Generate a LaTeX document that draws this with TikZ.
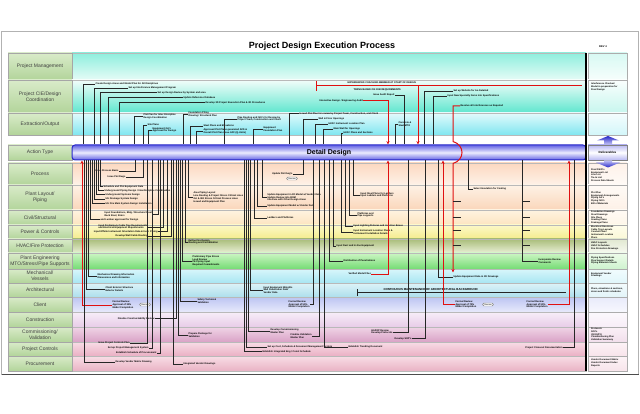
\documentclass[tikz,border=0pt]{standalone}
\usepackage{fontspec}
\setmainfont{Liberation Sans}
\usetikzlibrary{arrows.meta}
\definecolor{pmT}{HTML}{8EEEDD}\definecolor{pmB}{HTML}{E6FCF7}
\definecolor{ciT}{HTML}{F2FDFA}\definecolor{ciB}{HTML}{5EE6CE}
\definecolor{exT}{HTML}{E2FAFC}\definecolor{exB}{HTML}{80E6F0}
\definecolor{prT}{HTML}{FCD8C0}\definecolor{prB}{HTML}{FEF2E8}
\definecolor{plT}{HTML}{FEF2E6}\definecolor{plB}{HTML}{FAD6BA}
\definecolor{cvT}{HTML}{FEF3E0}\definecolor{cvB}{HTML}{FDE4C0}
\definecolor{pwT}{HTML}{FCF8C8}\definecolor{pwB}{HTML}{F4EC8C}
\definecolor{hvT}{HTML}{A9BD7A}\definecolor{hvB}{HTML}{E9EFD6}
\definecolor{geT}{HTML}{CDF5C4}\definecolor{geB}{HTML}{74DC74}
\definecolor{meT}{HTML}{D8F6FB}\definecolor{meB}{HTML}{A8E6F2}
\definecolor{arT}{HTML}{DDF3F8}\definecolor{arB}{HTML}{ADDFEC}
\definecolor{clT}{HTML}{BCC4F2}\definecolor{clB}{HTML}{E8EAFB}
\definecolor{coT}{HTML}{F7EEF8}\definecolor{coB}{HTML}{E8CCE8}
\definecolor{cmT}{HTML}{F0D4E6}\definecolor{cmB}{HTML}{D9A2C6}
\definecolor{pcT}{HTML}{F8DCE6}\definecolor{pcB}{HTML}{EAB0C4}
\definecolor{puT}{HTML}{F8DEE6}\definecolor{puB}{HTML}{E9B2C4}
\definecolor{lgT}{HTML}{D9EBC9}\definecolor{lgB}{HTML}{B2D49A}
\definecolor{barE}{HTML}{6262E4}\definecolor{barD}{HTML}{2828C8}\definecolor{barM}{HTML}{ECECFE}
\definecolor{redl}{HTML}{E01010}
\tikzset{
  lbl/.style={font=\fontsize{2.4}{2.75}\selectfont\bfseries, anchor=west, inner sep=0.3pt, align=left},
  lblE/.style={lbl, anchor=east},
  conn/.style={draw=black!85, line width=0.4pt},
  rconn/.style={draw=redl, line width=1pt},
  rarr/.style={rconn, -{Stealth[length=3.4pt,width=3.2pt]}},
  lanetxt/.style={font=\fontsize{5}{5.6}\selectfont, text=black!75, align=center},
  deliv/.style={font=\fontsize{2.3}{2.7}\selectfont\bfseries, anchor=west, align=left, inner sep=0pt},
  rbox/.style={draw=gray, fill=white, rounded corners=1.5pt, font=\fontsize{2.2}{2.5}\selectfont, inner sep=0.7pt, minimum width=11pt}
}
\newcommand\mklane[6]{%
  \shade[top color=#4, bottom color=#5] (72,#2) rectangle (586,#3);
  \draw[gray!55, line width=0.4pt] (72,#2) rectangle (586,#3);
  \shade[top color=#4!35!white, bottom color=#5!35!white] (588,#2) rectangle (627,#3);
  \draw[gray!65, line width=0.4pt] (588,#2) rectangle (627,#3);
  \shade[top color=lgT, bottom color=lgB] (8,#2) rectangle (72,#3);
  \draw[gray!70, line width=0.4pt] (8,#2) rectangle (72,#3);
  \node[lanetxt] (#1) at (40,{(#2+#3)/2}) {#6};}
\newcommand\tUp[5]{\node[lbl] (#1) at (#3,#4) {#5}; \coordinate (#1v) at (#2,#4); \draw[conn] (#1.west) -- (#1v) -- (bar.north -| #1v);}
\newcommand\tUpE[5]{\node[lblE] (#1) at (#3,#4) {#5}; \coordinate (#1v) at (#2,#4); \draw[conn] (#1.east) -- (#1v) -- (bar.north -| #1v);}
\newcommand\tDn[5]{\node[lbl] (#1) at (#3,#4) {#5}; \coordinate (#1v) at (#2,#4); \draw[conn] (#1.west) -- (#1v) -- (bar.south -| #1v);}
\newcommand\tDnE[5]{\node[lblE] (#1) at (#3,#4) {#5}; \coordinate (#1v) at (#2,#4); \draw[conn] (#1.east) -- (#1v) -- (bar.south -| #1v);}
\newcommand\rDn[5]{\node[lbl] (#1) at (#3,#4) {#5}; \coordinate (#1v) at (#2,#4); \draw[rarr] (#1.west) -- (#1v) -- (bar.south -| #1v);}
\newcommand\rDnE[5]{\node[lblE] (#1) at (#3,#4) {#5}; \coordinate (#1v) at (#2,#4); \draw[rarr] (#1.east) -- (#1v) -- (bar.south -| #1v);}
\begin{document}
\begin{tikzpicture}[x=1pt,y=-1pt]
\useasboundingbox (0,0) rectangle (640,414);
\fill[white] (0,0) rectangle (640,414);
% frame and title
\draw[gray!60, line width=0.8pt] (1.5,31) rectangle (638.5,374);
\draw[black!70, line width=1pt] (1.5,374) -- (638.5,374);
\node[font=\fontsize{9}{10}\selectfont\bfseries] (title) at (322,46) {Project Design Execution Process};
\node[font=\fontsize{2.6}{3}\selectfont\bfseries] (rev) at (603,47) {REV 4};
% lanes
\mklane{lPM}{53}{80}{pmT}{pmB}{Project Management}
\mklane{lCI}{80}{113}{ciT}{ciB}{Project CIE/Design\\Coordination}
\mklane{lEX}{113}{135}{exT}{exB}{Extraction/Output}
\mklane{lPR}{163}{185}{prT}{prB}{Process}
\mklane{lPL}{185}{210}{plT}{plB}{Plant Layout/\\Piping}
\mklane{lCV}{210}{225}{cvT}{cvB}{Civil/Structural}
\mklane{lPW}{225}{239}{pwT}{pwB}{Power \& Controls}
\mklane{lHV}{239}{253}{hvT}{hvB}{HVAC/Fire Protection}
\mklane{lGE}{253}{269}{geT}{geB}{Plant Engineering\\MTO/Stress/Pipe Supports}
\mklane{lME}{269}{283}{meT}{meB}{Mechanical/\\Vessels}
\mklane{lAR}{283}{297}{arT}{arB}{Architectural}
\mklane{lCL}{297}{312}{clT}{clB}{Client}
\mklane{lCO}{312}{327}{coT}{coB}{Construction}
\mklane{lCM}{327}{342}{cmT}{cmB}{Commissioning/\\Validation}
\mklane{lPC}{342}{356}{pcT}{pcB}{Project Controls}
\mklane{lPU}{356}{371}{puT}{puB}{Procurement}
% action type row
\shade[top color=lgT, bottom color=lgB] (8,145) rectangle (72,160);
\draw[gray!70, line width=0.4pt] (8,145) rectangle (72,160);
\node[lanetxt] (lAT) at (40,152.5) {Action Type};
\node[draw=barD, line width=1pt, rounded corners=3pt, top color=barE, bottom color=barE, middle color=barM, minimum width=514pt, minimum height=15pt, inner sep=0pt, font=\fontsize{7}{8}\selectfont\bfseries] (bar) at (329,152.5) {Detail Design};
\node[draw=gray, line width=0.4pt, top color=barE!45!white, bottom color=barE!45!white, middle color=white, minimum width=39pt, minimum height=15pt, inner sep=0pt, font=\fontsize{3}{3.5}\selectfont\bfseries] (dl) at (607.5,152.5) {Deliverables};
\shade[top color=barD, bottom color=barE!40!white] (604,144) -- (604,140.5) -- (597,140.5) -- (608,136) -- (619,140.5) -- (612,140.5) -- (612,144) -- cycle;
\shade[top color=barE!40!white, bottom color=barD] (604,160.5) -- (604,162.5) -- (596,162.5) -- (608,167.5) -- (620,162.5) -- (612,162.5) -- (612,160.5) -- cycle;
% ---- upper items: CIE / coordination
\tUp{t1}{83}{95}{84}{Create Design Areas and Model Plan for All Disciplines}
\tUp{t2}{94}{128}{88}{Set up Interference Management Program}
\tUp{t3}{100}{157}{92.5}{Set up Design Review by System and area}
\tUp{t4}{108}{183}{97.5}{Update Reference Database}
\tUp{t5}{119}{205}{102.5}{Develop 3D Project Execution Plan \& 3D Procedures}
\node[lbl] (ch1) at (347,83) {EXPERIENCED COACHING MEMBER AT START OF DESIGN};
\node[lbl] (ch2) at (353,89.5) {TIMING BASED ON JOB REQUIREMENTS};
\coordinate (tbL) at (316,86); \coordinate (tbR) at (582,86);
\coordinate (tbLa) at (316,81); \coordinate (tbLb) at (316,91);
\draw[rconn] (tbL) -- (tbR); \draw[rconn] (tbLa) -- (tbLb);
\coordinate (tbD) at (418,86); \draw[rarr] (tbD) -- (bar.north -| tbD);
\node[lbl] (ti) at (319,101) {Interactive Design / Engineering Audit};
\coordinate (tiv) at (388,101); \draw[rarr] (ti.east) -- (tiv) -- (bar.north -| tiv);
\tUpE{t7}{404}{395}{95}{Issue Audit Report}
\tUp{t8}{424}{453}{91}{Set up Website for As-Detailed}
\tUp{t9}{433}{447}{96}{Input New Specialty Items into Specifications}
\node[lbl] (t10) at (460,106) {Resolve all Interferences as Required};
\coordinate (t10v) at (453,106); \coordinate (t10a) at (453,141.5);
\coordinate (t10b) at (453,163.5); \coordinate (t10c) at (453,272.5);
\draw[rarr] (t10.west) -- (t10v) -- (t10a) .. controls (465,145) and (465,160) .. (t10b) -- (t10c);
% ---- extraction / output
\tUp{e1}{134}{143}{116.5}{Plot Plan for Inter-Discipline\\Design Coordination}
\tUp{e2}{143}{147}{125}{Site Plans}
\tUp{e3}{148}{152}{130}{Equipment GA's\\Approved for Design}
\tUp{e4}{183}{188}{114.5}{Foundation Piling\\Drawing / Structural Plan}
\tUp{e5}{190}{203}{126}{Steel Plans and Elevations}
\tUp{e6}{196}{203}{131.5}{Approved Plot Plans generated AFD \&\\Overall Plot Plan issue AFC (Q-Units)}
\tUp{e7}{224}{237}{119}{Pipe Routing and ISO's for Review by\\Project Team, Construction and Client}
\tUp{e8}{253}{263}{129.5}{Equipment\\Foundation Plan}
\tUp{e9}{289}{299}{113.5}{Issued Plot Plan for review by Project Team, Construction, and Client}
\tUp{e10}{303}{318}{119}{Wall \& Floor Openings}
\tUp{e11}{315}{328}{124}{HVAC Instrument Location Plan}
\tUp{e12}{323}{333}{129}{Main Wall for Openings}
\tUp{e13}{341}{343}{133}{HVAC Plans and Sections}
\tUp{e14}{395}{398}{124}{Concrete \&\\Steel MTO}
% ---- lower items, left block
\tDnE{p1}{135}{119}{171}{Issue Process Basis}
\tDnE{p2}{143}{126}{177}{Issue P\&I Dwgs}
\tDn{p3}{100}{103}{186.5}{Schedule and Plot Equipment Data}
\tDn{p4}{98}{104}{190.5}{Underground Piping Design / Interdiscipline Coordination}
\tDn{p5}{96}{105}{194.5}{Underground Systems Design}
\tDn{p6}{94}{105}{199}{UG Drainage System Design}
\tDn{p7}{92}{105}{203.5}{UG Fire Main System Design Installation}
\tDnE{c1}{158}{153}{214}{Input Foundations, Bldg / Structural Steel,\\Rack Steel, Stairs}
\tDn{c2}{90}{100}{219.5}{and Lumber approved for Design}
\tDnE{w1}{163}{148}{227}{Input Preliminary Cable Tray Requirements\\and Electrical Equipment Requirements}
\tDnE{w2}{167}{158}{231.5}{Input Offsite Instrument Orientation Data \& Instr. Piping}
\tDnE{w3}{171}{148}{236}{Develop Wall Cable Routing}
\tDn{m1}{88}{97}{276}{Mechanical Drawing Information\\Dimensions and Information}
\tDn{a1}{86}{105}{289.5}{Client Exterior Structure\\Exterior Details}
\rDn{r1}{82}{112}{305}{Formal Review\\Approval of 30\%\\Model Completion}
\node[rbox] (rb1) at (145,304.5) {Review};
\tDnE{k1}{176}{155}{318.5}{Finalize Constructability Review}
\tDnE{j1}{147}{130}{343}{Issue Project Controls Plan}
\tDnE{j2}{152}{149}{348}{Set up Project Management System}
\tDnE{j3}{160}{157}{353}{Establish Schedule of Procurement}
\tDn{q1}{84}{115}{362}{Develop Vendor Matrix Drawing}
\tDn{q2}{173}{183}{364}{Integrated Vendor Drawings}
\tDn{v1}{178}{188}{335}{Prepare Package for\\Validation}
\tDn{r2}{180}{197}{301}{Safety Technical\\Validation}
\tDn{g1}{182}{192}{261}{Preliminary Pipe Stress\\Load Review\\PE Piping Input\\Required Commitments}
\tDn{h1}{185}{188}{242}{Define Fire Design\\Routing and Coordination}
\tDn{l1}{188}{193}{197.5}{Area Piping Layout\\Line Routing \& Project Stress Critical Lines\\GA \& ISO Stress Critical Process Lines\\Issued and Equipment Plan}
% ---- lower items, middle block
\tDnE{p8}{303}{293}{174}{Update P\&I Dwg's}
\node[rbox] (rb2) at (292,178.5) {Review};
\tDn{l2}{262}{267}{197.5}{Update Equipment in 3D Model w/ Vendor Data\\Update Review into BOM\\Interface with Other Design Areas}
\tDn{l3}{257}{267}{206}{Update Equipment Model w/ Vendor Data}
\tDn{c3}{254}{267}{218}{Ladders and Platforms}
\tDn{a2}{250}{263}{290}{Input Equipment Weights\\Wall Penetration Data\\Vendor Data}
\tDn{v2}{248}{270}{331}{Develop Commissioning\\Master Plan}
\tDn{j4}{246}{267}{347}{Set up Cost, Schedule \& Document Management System}
\tDn{j5}{244}{262}{351.5}{Establish Integrated Eng / Const Schedule}
\tDnE{r3}{313}{310}{304.5}{Formal Review\\Approval of 50\%\\Model Completion}
\tDnE{v3}{319}{312}{336.5}{Finalize Validation\\Master Plan}
\tDn{j6}{324}{348}{347}{Establish Trending Document}
\tDn{g2}{329}{343}{261}{Distribution of Penetrations}
\tDn{h2}{333}{336}{246}{Input Duct and In-line Equipment}
\tDn{w5}{341}{353}{232}{Input Instrument Location Plans \&\\Instrument Installation Details}
\tDn{w4}{345}{353}{226}{Input Lighting Fixtures and Junction Boxes}
\tDn{c4}{349}{357}{215}{Platforms and\\Pipe supports}
\tDn{l4}{353}{360}{195}{Input Steel Plans for Ladders\\Input Ladders and Platforms}
\node[lbl] (m2) at (348,274) {Verified Model Files};
\coordinate (m2v) at (388,274); \draw[rarr] (m2.east) -- (m2v) -- (bar.south -| m2v);
\coordinate (cmL) at (357,292.5); \coordinate (cmR) at (566,292.5);
\coordinate (cmLa) at (357,289); \coordinate (cmLb) at (357,296);
\draw[conn] (cmL) -- (cmR); \draw[conn] (cmLa) -- (cmLb);
\node[lbl, font=\fontsize{2.9}{3.2}\selectfont\bfseries] (cmt) at (383,289.3) {CONTINUOUS MAINTENANCE OF ARCHITECTURAL BACKGROUND};
\tDnE{v4}{408}{393}{332}{HAZOP Review\\Develop Protocols}
\tDnE{v5}{425}{412}{338.5}{Develop SOP's}
% ---- lower items, right block
\tDn{p9}{468}{473}{189}{Select Insulation for Coating}
\tDn{g3}{522}{538}{261}{Incorporate Review\\Comments}
\foreach \yy in {201,217,230.5,245} {\draw[conn] (522,\yy) -- (530,\yy); \draw[conn] (453,\yy) -- (461,\yy);}
\tDn{m3}{438}{453}{277}{Update Equipment Data in 3D Drawings}
\rDn{r4}{443}{455}{304.5}{Formal Review\\Approval of 70\%\\Model Completion}
\node[rbox] (rb3) at (488,304.5) {Review};
\rDnE{r5}{569}{548}{304.5}{Formal Review\\Approval of 90\%\\Model Completion}
\tDnE{j7}{574}{563}{347.5}{Project Closeout Documentation}
% ---- deliverables column
\node[deliv] (dv1) at (591,87) {Interference Checked\\Model in preparation for\\Final Design};
\node[deliv] (dv2) at (591,175) {Final P\&ID's\\Equipment List\\Line List\\Tie-In List\\Process Data Sheets};
\node[deliv] (dv3) at (591,198) {Plot Plan\\Equipment Arrangements\\Piping GA's\\Piping ISO's\\Bill of Materials};
\node[deliv] (dv4) at (591,217.5) {Foundation Drawings\\Steel Drawings\\Site Plans\\Grading Plans\\Drainage Plans};
\node[deliv] (dv5) at (591,232) {Electrical One-Lines\\Cable Tray Layouts\\Conduit Plans\\Instrument Location\\Plans};
\node[deliv] (dv6) at (591,246) {HVAC Layouts\\HVAC Schedules\\Fire Protection Drawings};
\node[deliv] (dv7) at (591,260.5) {Piping Specifications\\Pipe Support Details\\Piping Materials Sheets};
\node[deliv] (dv8) at (591,275) {Equipment Vendor\\Drawings};
\node[deliv] (dv9) at (591,290) {Plans, elevations \& sections,\\doors and finish schedules};
\node[deliv] (dv10) at (591,334.5) {Protocols\\SOPs\\IQ/OQ/PQ\\Commissioning Plan\\Validation Summary};
\node[deliv] (dv11) at (591,363) {Vendor Document Matrix\\Vendor Document Index\\Reports};
% divider
\draw[black, line width=1.4pt] (586,53) -- (586,371);
\end{tikzpicture}
\end{document}
